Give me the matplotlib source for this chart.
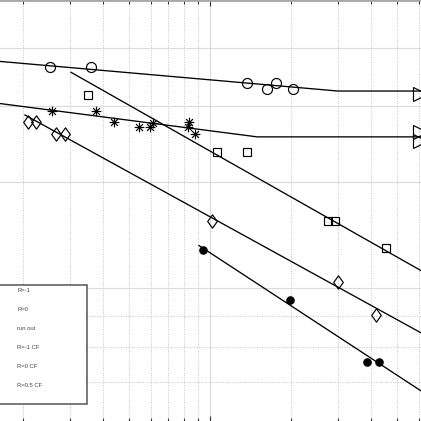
import matplotlib
matplotlib.use("Agg")
import matplotlib.pyplot as plt
from matplotlib.path import Path
from matplotlib.ticker import FixedLocator, LogLocator, NullFormatter
from matplotlib.patches import Rectangle

# ---- data (cycles N, stress amplitude S) ----
N_rm1 = [2.52e5, 3.61e5, 1.37e6, 1.63e6, 1.76e6, 2.04e6]
S_rm1 = [232, 232, 219, 214, 219, 214]

N_r0 = [2.58e5, 3.75e5, 4.40e5, 5.42e5, 5.99e5, 6.11e5, 8.28e5, 8.35e5, 8.79e5]
S_r0 = [196.5, 196.5, 188.4, 185.1, 185.1, 187.9, 185.1, 188.4, 180.0]

N_runout = [6.1e6, 6.1e6, 6.1e6]
S_runout = [210, 181, 175]

N_rm1cf = [3.52e5, 1.065e6, 1.37e6, 2.75e6, 2.93e6, 4.55e6]
S_rm1cf = [208.8, 167.8, 168.0, 129.3, 129.3, 116.4]

N_r0cf = [2.09e5, 2.24e5, 2.66e5, 2.88e5, 1.02e6, 3.01e6, 4.15e6]
S_r0cf = [188.2, 188.2, 180.0, 180.0, 129.3, 102.2, 90.3]

N_r05cf = [9.44e5, 1.99e6, 3.85e6, 4.28e6]
S_r05cf = [115.7, 95.4, 75.4, 75.4]

# fitted curves
fit_rm1_N = [1e5, 3.0e6, 1e7]
fit_rm1_S = [242, 212, 212]
fit_r0_N = [1e5, 1.5e6, 1e7]
fit_r0_S = [208, 178, 178]
fit_rm1cf_N = [3.03e5, 1e7]
fit_rm1cf_S = [227.7, 94.5]
fit_r0cf_N = [2.04e5, 1e7]
fit_r0cf_S = [193.5, 74.8]
fit_r05cf_N = [9.1e5, 1e7]
fit_r05cf_S = [117.6, 58.6]

labels = ["R=-1", "R=0", "run out", "R=-1 CF", "R=0 CF", "R=0.5 CF"]

xlim = (1e5, 1e7)
ylim = (60, 300)
y_major = [100, 150, 200, 250]
y_minor = [70, 80, 90]

# ---- custom markers ----
d = 0.3536
asterisk = Path(
    [(-0.5, 0), (0.5, 0), (0, -0.5), (0, 0.5), (-d, -d), (d, d), (-d, d), (d, -d)],
    [Path.MOVETO, Path.LINETO] * 4,
)
diamond = Path([(0, 0.5), (0.36, 0), (0, -0.5), (-0.36, 0), (0, 0.5)],
               [Path.MOVETO, Path.LINETO, Path.LINETO, Path.LINETO, Path.CLOSEPOLY])

W = H = 421
fig = plt.figure(figsize=(W / 100, H / 100), dpi=100)
ax = fig.add_axes([-58 / W, -1 / H, 536 / W, 422 / H])
ax.set_xscale("log")
ax.set_yscale("log")
ax.set_xlim(*xlim)
ax.set_ylim(*ylim)

ax.xaxis.set_major_locator(LogLocator(base=10))
ax.xaxis.set_minor_locator(LogLocator(base=10, subs=range(2, 10)))
ax.yaxis.set_major_locator(FixedLocator(y_major))
ax.yaxis.set_minor_locator(FixedLocator(y_minor))
for a in (ax.xaxis, ax.yaxis):
    a.set_major_formatter(NullFormatter())
    a.set_minor_formatter(NullFormatter())

ax.grid(which="major", color="#dadada", linestyle="-", linewidth=0.8)
ax.grid(which="minor", color="#c4c4c4", linestyle=(0, (1, 1.5)), linewidth=0.7)
ax.set_axisbelow(True)

ax.tick_params(which="both", direction="in", top=True, bottom=True, left=False,
               right=False, labelbottom=False, labelleft=False, color="#333333",
               width=0.8)
ax.tick_params(which="major", length=4.5)
ax.tick_params(which="minor", length=2.8)
for s in ax.spines.values():
    s.set_color("#a8a8a8")
    s.set_linewidth(2.0)

lw = 0.95
mew = 0.85
ax.plot(fit_rm1_N, fit_rm1_S, color="black", lw=lw)
ax.plot(fit_r0_N, fit_r0_S, color="black", lw=lw)
ax.plot(fit_rm1cf_N, fit_rm1cf_S, color="black", lw=lw)
ax.plot(fit_r0cf_N, fit_r0cf_S, color="black", lw=lw)
ax.plot(fit_r05cf_N, fit_r05cf_S, color="black", lw=lw)

h1, = ax.plot(N_rm1, S_rm1, ls="none", marker="o", ms=7.2, mfc="none", mec="black", mew=mew)
h2, = ax.plot(N_r0, S_r0, ls="none", marker=asterisk, ms=7.0, mfc="none", mec="black", mew=mew)
h3, = ax.plot(N_runout, S_runout, ls="none", marker=">", ms=9.5, mfc="none", mec="black", mew=mew)
h4, = ax.plot(N_rm1cf, S_rm1cf, ls="none", marker="s", ms=5.7, mfc="none", mec="black", mew=mew)
h5, = ax.plot(N_r0cf, S_r0cf, ls="none", marker=diamond, ms=9.6, mfc="none", mec="black", mew=mew)
h6, = ax.plot(N_r05cf, S_r05cf, ls="none", marker="o", ms=5.3, mfc="black", mec="black", mew=mew)

# legend box (left part cropped like the reference)
box = Rectangle((-10 / W, (H - 404) / H), 97.3 / W, 119.3 / H, transform=fig.transFigure,
                facecolor="white", edgecolor="#555555", linewidth=1.1, zorder=4.9,
                clip_on=False)
ax.add_patch(box)

leg = fig.legend([h1, h2, h3, h4, h5, h6], labels, loc="upper left",
                 bbox_to_anchor=(-18 / W, (H - 287.8) / H), bbox_transform=fig.transFigure,
                 frameon=False, borderpad=0, borderaxespad=0, handlelength=2,
                 handletextpad=4.0, labelspacing=2.4,
                 prop={"family": "Liberation Sans", "size": 4.2})
leg.set_zorder(5)
for t in leg.get_texts():
    t.set_color("#444444")

fig.savefig("out.png", dpi=100)
